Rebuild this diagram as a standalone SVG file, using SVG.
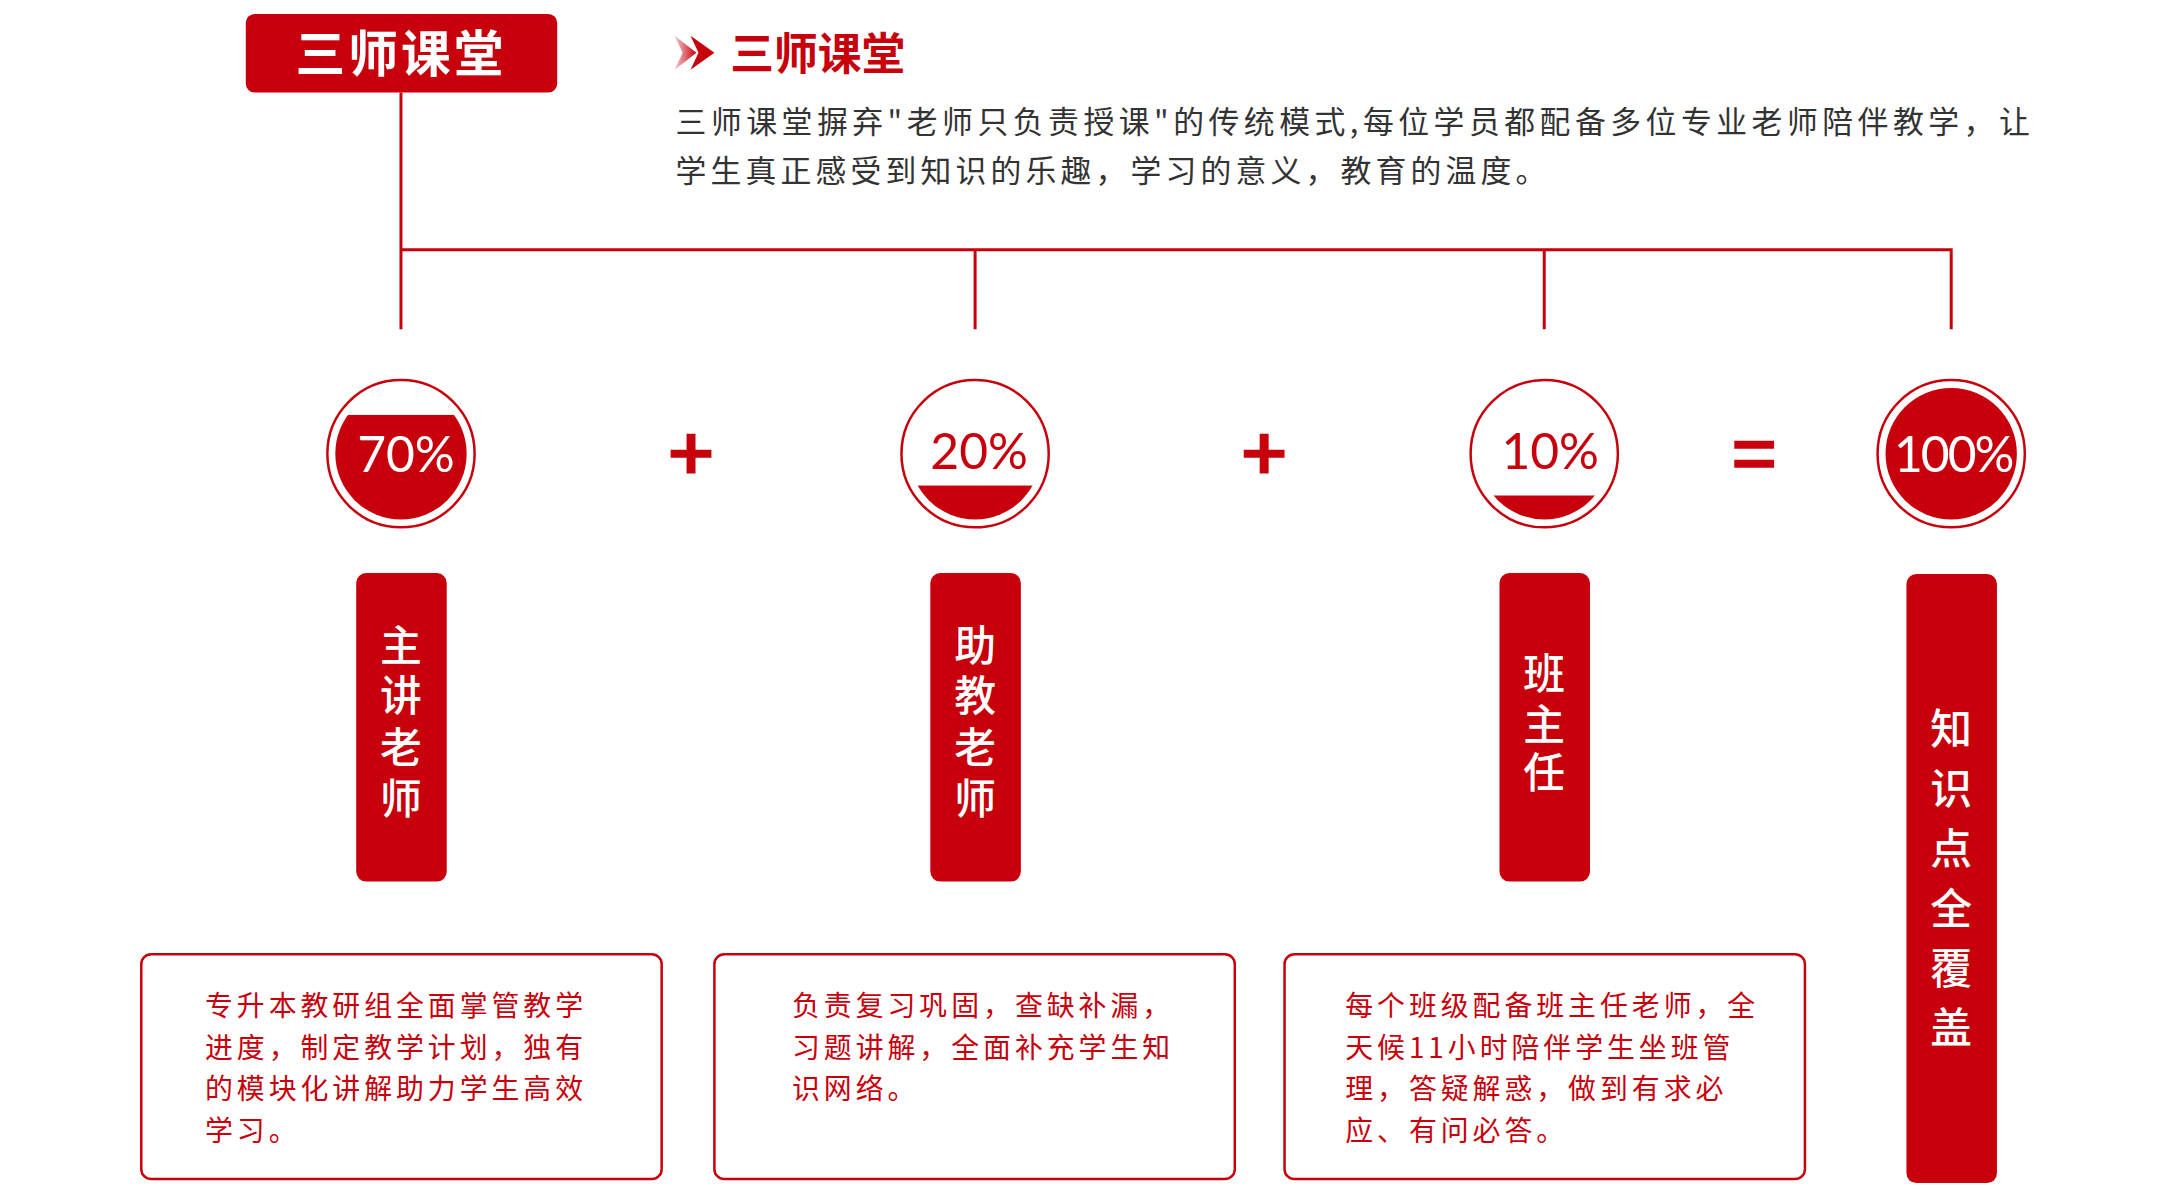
<svg xmlns="http://www.w3.org/2000/svg" width="2175" height="1190" viewBox="0 0 2175 1190">
<defs>
<style>
.cj{font-family:"Noto Sans CJK SC","Noto Sans",sans-serif}
.ln{stroke:#c8000b;stroke-width:3;fill:none}
.ring{fill:#fff;stroke:#c8000b;stroke-width:2.5}
.bar{fill:#c8000b}
.vt{font-family:"Noto Sans CJK SC",sans-serif;font-size:42px;fill:#fff;font-weight:500;text-anchor:middle}
.box{fill:#fff;stroke:#c8000b;stroke-width:2.5}
.desc{font-family:"Noto Sans CJK SC",sans-serif;font-size:28px;fill:#c8000b;letter-spacing:4px}
.op{fill:#c8000b}
</style>
<linearGradient id="ag" x1="0" x2="1"><stop offset="0" stop-color="#c8000b" stop-opacity="0.2"/><stop offset="1" stop-color="#c8000b"/></linearGradient>
<clipPath id="c1"><circle cx="403" cy="456" r="66"/></clipPath>
<clipPath id="c2"><circle cx="980" cy="456" r="66"/></clipPath>
<clipPath id="c3"><circle cx="1552" cy="456" r="66"/></clipPath>
</defs>
<g transform="scale(0.995)">
<g id="title">
<rect x="247" y="14" width="313" height="79" rx="9" fill="#c8000b"/>
<text x="403" y="72" class="cj" font-size="50" font-weight="700" fill="#fff" text-anchor="middle" letter-spacing="3">三师课堂</text>
</g>
<g id="header">
<path d="M678 36 L700 53 L678 70 L686 53 Z" fill="url(#ag)"/>
<path d="M694 36 L718 53 L694 70 L702 53 Z" fill="#c8000b"/>
<text x="734" y="70" class="cj" font-size="44" font-weight="700" fill="#c8000b">三师课堂</text>
<text x="679" y="134" class="cj" font-size="31" fill="#333" textLength="1361" lengthAdjust="spacing">三师课堂摒弃"老师只负责授课"的传统模式,每位学员都配备多位专业老师陪伴教学，让</text>
<text x="679" y="183" class="cj" font-size="31" fill="#333" textLength="875" lengthAdjust="spacing">学生真正感受到知识的乐趣，学习的意义，教育的温度。</text>
</g>
<g id="connectors">
<path class="ln" d="M403 93 V331 M403 251 H1961 V331 M980 251 V331 M1552 251 V331"/>
</g>
<g id="p70">
<circle class="ring" cx="403" cy="456" r="74"/>
<rect x="330" y="417" width="150" height="120" fill="#c8000b" clip-path="url(#c1)"/>
<text x="408" y="474" font-family="Lato,'Open Sans',sans-serif" font-size="50" fill="#fff" text-anchor="middle">70%</text>
</g>
<g id="p20">
<circle class="ring" cx="980" cy="456" r="74"/>
<rect x="900" y="488" width="160" height="60" fill="#c8000b" clip-path="url(#c2)"/>
<text x="984" y="471" font-family="Lato,'Open Sans',sans-serif" font-size="50" fill="#c8000b" text-anchor="middle">20%</text>
</g>
<g id="p10">
<circle class="ring" cx="1552" cy="456" r="74"/>
<rect x="1470" y="498" width="160" height="60" fill="#c8000b" clip-path="url(#c3)"/>
<text x="1558" y="471" font-family="Lato,'Open Sans',sans-serif" font-size="50" fill="#c8000b" text-anchor="middle">10%</text>
</g>
<g id="p100">
<circle class="ring" cx="1961" cy="456" r="74"/>
<circle cx="1961" cy="456" r="66" fill="#c8000b"/>
<text x="1963" y="474" font-family="Lato,'Open Sans',sans-serif" font-size="50" fill="#fff" text-anchor="middle" letter-spacing="-2">100%</text>
</g>
<g id="ops">
<path class="op" d="M674 452 H715 V460 H674 Z M690 436 H699 V476 H690 Z"/>
<path class="op" d="M1250 452 H1291 V460 H1250 Z M1266 436 H1275 V476 H1266 Z"/>
<path class="op" d="M1743 443 H1783 V451 H1743 Z M1743 462 H1783 V470 H1743 Z"/>
</g>
<g id="b1"><rect class="bar" x="358" y="576" width="91" height="310" rx="10"/>
<text class="vt"><tspan x="403" y="664">主</tspan><tspan x="403" y="715">讲</tspan><tspan x="403" y="767">老</tspan><tspan x="403" y="818">师</tspan></text></g>
<g id="b2"><rect class="bar" x="935" y="576" width="91" height="310" rx="10"/>
<text class="vt"><tspan x="980" y="664">助</tspan><tspan x="980" y="715">教</tspan><tspan x="980" y="767">老</tspan><tspan x="980" y="818">师</tspan></text></g>
<g id="b3"><rect class="bar" x="1507" y="576" width="91" height="310" rx="10"/>
<text class="vt"><tspan x="1552" y="692">班</tspan><tspan x="1552" y="744">主</tspan><tspan x="1552" y="792">任</tspan></text></g>
<g id="b4"><rect class="bar" x="1916" y="577" width="91" height="612" rx="10"/>
<text class="vt"><tspan x="1961" y="748">知</tspan><tspan x="1961" y="808">识</tspan><tspan x="1961" y="868">点</tspan><tspan x="1961" y="929">全</tspan><tspan x="1961" y="989">覆</tspan><tspan x="1961" y="1048">盖</tspan></text></g>
<g id="d1"><rect class="box" x="142" y="959" width="523" height="226" rx="10"/>
<text class="desc"><tspan x="206" y="1021">专升本教研组全面掌管教学</tspan><tspan x="206" y="1063">进度，制定教学计划，独有</tspan><tspan x="206" y="1105">的模块化讲解助力学生高效</tspan><tspan x="206" y="1147">学习。</tspan></text></g>
<g id="d2"><rect class="box" x="718" y="959" width="523" height="226" rx="10"/>
<text class="desc"><tspan x="796" y="1021">负责复习巩固，查缺补漏，</tspan><tspan x="796" y="1063">习题讲解，全面补充学生知</tspan><tspan x="796" y="1105">识网络。</tspan></text></g>
<g id="d3"><rect class="box" x="1291" y="959" width="523" height="226" rx="10"/>
<text class="desc"><tspan x="1352" y="1021">每个班级配备班主任老师，全</tspan><tspan x="1352" y="1063">天候11小时陪伴学生坐班管</tspan><tspan x="1352" y="1105">理，答疑解惑，做到有求必</tspan><tspan x="1352" y="1147">应、有问必答。</tspan></text></g>
</g>
</svg>
